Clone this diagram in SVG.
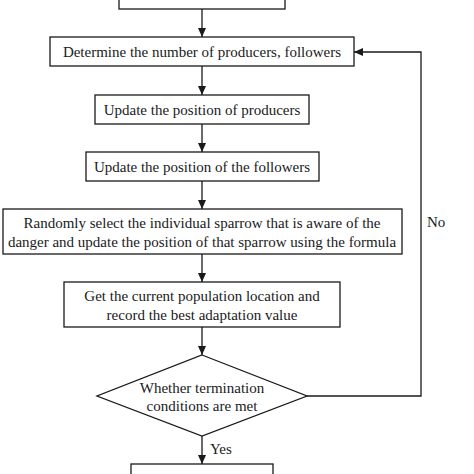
<svg xmlns="http://www.w3.org/2000/svg" width="474" height="474" viewBox="0 0 474 474">
<defs>
<marker id="ah" markerWidth="10" markerHeight="10" refX="9" refY="5" orient="auto" markerUnits="userSpaceOnUse">
<path d="M0,1 L9,5 L0,9 Z" fill="#1a1a1a"/>
</marker>
<style>
.box{fill:#fff;stroke:#1a1a1a;stroke-width:1.3}
.t{font-family:"Liberation Serif","Times New Roman",serif;font-size:15px;fill:#1a1a1a;text-anchor:middle}
.c{fill:none;stroke:#1a1a1a;stroke-width:1.3}
</style>
</defs>
<rect width="474" height="474" fill="#fff"/>
<g id="connectors">
<line class="c" x1="202" y1="9" x2="202" y2="37" marker-end="url(#ah)"/>
<line class="c" x1="202" y1="66" x2="202" y2="95" marker-end="url(#ah)"/>
<line class="c" x1="202" y1="124" x2="202" y2="152" marker-end="url(#ah)"/>
<line class="c" x1="202" y1="181" x2="202" y2="209" marker-end="url(#ah)"/>
<line class="c" x1="202" y1="254" x2="202" y2="282" marker-end="url(#ah)"/>
<line class="c" x1="202" y1="327" x2="202" y2="355" marker-end="url(#ah)"/>
<line class="c" x1="202" y1="436" x2="202" y2="464" marker-end="url(#ah)"/>
<polyline class="c" points="307,396 421,396 421,52 354,52" marker-end="url(#ah)"/>
<text class="t" x="210" y="454" style="text-anchor:start">Yes</text>
<text class="t" x="427" y="227" style="text-anchor:start">No</text>
</g>
<g id="n0"><rect class="box" x="119" y="-10" width="166" height="19"/></g>
<g id="n1"><rect class="box" x="50" y="37" width="304" height="29"/>
<text class="t" x="202" y="57">Determine the number of producers, followers</text></g>
<g id="n2"><rect class="box" x="95" y="95" width="214" height="29"/>
<text class="t" x="202" y="115">Update the position of producers</text></g>
<g id="n3"><rect class="box" x="86" y="152" width="233" height="29"/>
<text class="t" x="202" y="172">Update the position of the followers</text></g>
<g id="n4"><rect class="box" x="3" y="209" width="399" height="45"/>
<text class="t" x="202" y="228">Randomly select the individual sparrow that is aware of the</text>
<text class="t" x="202" y="247">danger and update the position of that sparrow using the formula</text></g>
<g id="n5"><rect class="box" x="64" y="282" width="276" height="45"/>
<text class="t" x="202" y="301">Get the current population location and</text>
<text class="t" x="202" y="320">record the best adaptation value</text></g>
<g id="n6"><polygon class="box" points="202,355 307,396 202,436 97,396"/>
<text class="t" x="202" y="393">Whether termination</text>
<text class="t" x="202" y="411">conditions are met</text></g>
<g id="n7"><rect class="box" x="131" y="464" width="142" height="20"/></g>
</svg>
